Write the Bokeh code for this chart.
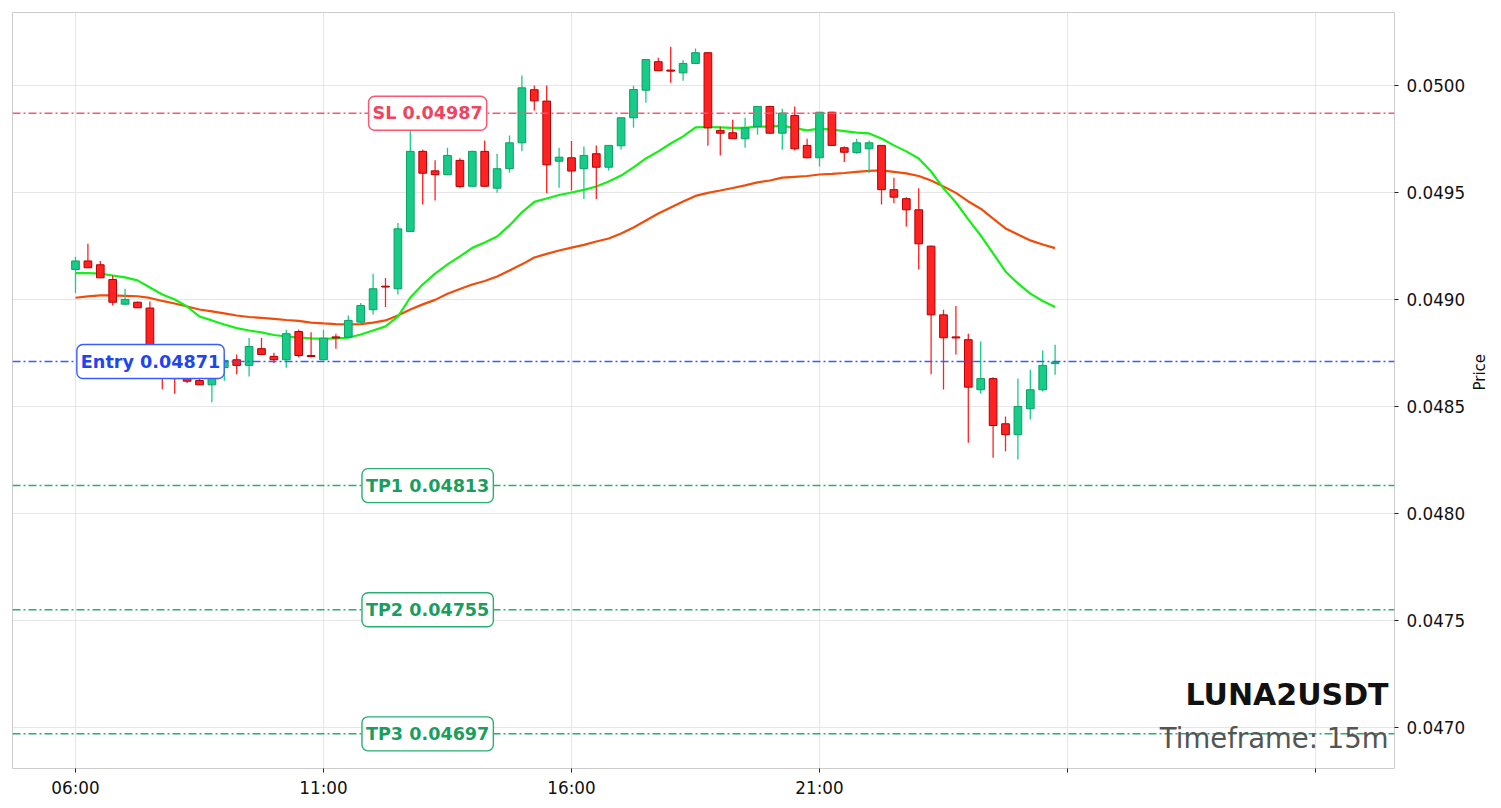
import math
from bokeh.plotting import figure
from bokeh.models import Range1d, FixedTicker, Label, Span
from bokeh.embed import file_html
from bokeh.resources import INLINE

# ---- data (15m candles starting 06:00) ----
time_labels = ["06:00", "11:00", "16:00", "21:00", "", ""]
tick_index = [0, 20, 40, 60, 80, 100]

opens = [0.04914, 0.04918, 0.049162, 0.049093, 0.048978, 0.048987, 0.04896, 0.04868, 0.048645, 0.048632,
         0.048621, 0.048601, 0.048682, 0.048718, 0.048692, 0.04877, 0.048734, 0.048718, 0.04885, 0.048738,
         0.048718, 0.048825, 0.048824, 0.048894, 0.048952, 0.049062, 0.04905, 0.049318, 0.049692, 0.049601,
         0.049583, 0.04965, 0.049529, 0.049692, 0.04952, 0.049611, 0.049732, 0.04998, 0.049927, 0.049646,
         0.049662, 0.049611, 0.049681, 0.049618, 0.049718, 0.049849, 0.049978, 0.050111, 0.050072, 0.050059,
         0.050103, 0.050153, 0.04979, 0.049779, 0.049751, 0.049808, 0.049902, 0.049777, 0.04986, 0.04972,
         0.049662, 0.049875, 0.049709, 0.049686, 0.049704, 0.04972, 0.049513, 0.049471, 0.049419, 0.049249,
         0.048928, 0.048825, 0.048812, 0.048578, 0.04863, 0.048419, 0.048368, 0.048489, 0.048578, 0.0487]
highs = [0.04920, 0.04926, 0.04918, 0.049112, 0.04905, 0.04899, 0.04899, 0.04870, 0.04865, 0.04864,
         0.048637, 0.04865, 0.04874, 0.048743, 0.048821, 0.04882, 0.048751, 0.048858, 0.04886, 0.048847,
         0.048858, 0.04884, 0.048925, 0.048983, 0.04912, 0.0491, 0.049357, 0.049798, 0.0497, 0.04965,
         0.049709, 0.04966, 0.049695, 0.049743, 0.049681, 0.049766, 0.050047, 0.0500, 0.0500, 0.049709,
         0.04974, 0.049715, 0.04972, 0.049722, 0.04985, 0.049999, 0.050122, 0.050129, 0.050181, 0.050118,
         0.050173, 0.050155, 0.049808, 0.04984, 0.049849, 0.049903, 0.049905, 0.049891, 0.049902, 0.049751,
         0.049876, 0.049877, 0.049715, 0.049751, 0.049743, 0.049722, 0.049569, 0.049478, 0.04952, 0.049252,
         0.048952, 0.048969, 0.04884, 0.048804, 0.048637, 0.048453, 0.04863, 0.048671, 0.048762, 0.048788]
lows = [0.04903, 0.04915, 0.0491, 0.048972, 0.048972, 0.04896, 0.04865, 0.04858, 0.048559, 0.04861,
        0.0486, 0.04852, 0.04862, 0.04865, 0.04864, 0.04874, 0.048702, 0.048681, 0.04873, 0.04873,
        0.048715, 0.04877, 0.04882, 0.048886, 0.04893, 0.048964, 0.049023, 0.049314, 0.049444, 0.049463,
        0.04958, 0.04952, 0.049525, 0.049525, 0.049499, 0.049592, 0.049693, 0.049883, 0.049497, 0.049522,
        0.049509, 0.04947, 0.04947, 0.049603, 0.049701, 0.049802, 0.049919, 0.050068, 0.050013, 0.050022,
        0.0501, 0.049718, 0.049673, 0.04975, 0.049709, 0.04977, 0.049775, 0.0497, 0.049696, 0.04966,
        0.049621, 0.049718, 0.049642, 0.049681, 0.04959, 0.049444, 0.04945, 0.049341, 0.04914, 0.04865,
        0.048579, 0.048743, 0.04833, 0.048559, 0.04826, 0.04829, 0.048252, 0.048439, 0.04857, 0.048648]
closes = [0.04918, 0.049148, 0.049101, 0.048987, 0.0490, 0.048961, 0.04868, 0.04864, 0.04863, 0.048618,
          0.048601, 0.048637, 0.048715, 0.048692, 0.04878, 0.048743, 0.048718, 0.04884, 0.048738, 0.048733,
          0.048819, 0.04882, 0.048902, 0.048972, 0.04905, 0.049058, 0.04933, 0.049692, 0.04959, 0.049583,
          0.049673, 0.049528, 0.049692, 0.049529, 0.049611, 0.049732, 0.049989, 0.049928, 0.049629, 0.049665,
          0.0496, 0.049673, 0.049618, 0.04972, 0.049849, 0.049981, 0.050121, 0.050069, 0.050067, 0.050103,
          0.050153, 0.049802, 0.049777, 0.049751, 0.049802, 0.049902, 0.049777, 0.049871, 0.049704, 0.049662,
          0.049875, 0.04972, 0.049688, 0.049732, 0.049732, 0.049513, 0.049478, 0.049419, 0.04926, 0.048928,
          0.048821, 0.04882, 0.04859, 0.04863, 0.048411, 0.048368, 0.0485, 0.048578, 0.048692, 0.048707]

ma_fast = [0.049123, 0.049123, 0.049121, 0.049112, 0.049103, 0.049089, 0.049056, 0.049023, 0.049000, 0.048967,
           0.048920, 0.048902, 0.048883, 0.048866, 0.048855, 0.048846, 0.048834, 0.048827, 0.048822, 0.048818,
           0.048816, 0.048818, 0.048821, 0.048836, 0.048855, 0.048874, 0.048920, 0.049009, 0.049070, 0.049121,
           0.049164, 0.049201, 0.049241, 0.049266, 0.049294, 0.049346, 0.049407, 0.049456, 0.049472, 0.049488,
           0.049500, 0.049512, 0.049528, 0.049551, 0.049579, 0.049617, 0.049659, 0.049692, 0.049729, 0.049762,
           0.049804, 0.049806, 0.049804, 0.049802, 0.049802, 0.049808, 0.049808, 0.049812, 0.049801, 0.049790,
           0.049798, 0.049794, 0.049787, 0.049780, 0.049776, 0.049752, 0.049720, 0.049692, 0.049659, 0.049598,
           0.049519, 0.049453, 0.049374, 0.049299, 0.049215, 0.049131, 0.049075, 0.049027, 0.048993, 0.048965]
ma_slow = [0.049008, 0.049014, 0.049019, 0.049019, 0.049017, 0.049015, 0.049007, 0.048993, 0.048981, 0.048967,
           0.048953, 0.048944, 0.048935, 0.048925, 0.048918, 0.048914, 0.048909, 0.048904, 0.048900, 0.048892,
           0.048888, 0.048885, 0.048883, 0.048885, 0.048892, 0.048902, 0.048925, 0.048953, 0.048977, 0.048998,
           0.049027, 0.049049, 0.049070, 0.049086, 0.049107, 0.049135, 0.049164, 0.049196, 0.049213, 0.049229,
           0.049242, 0.049255, 0.049271, 0.049285, 0.049308, 0.049336, 0.049369, 0.049402, 0.049430, 0.049458,
           0.049484, 0.049498, 0.049509, 0.049521, 0.049533, 0.049547, 0.049556, 0.049569, 0.049573, 0.049577,
           0.049584, 0.049587, 0.049591, 0.049596, 0.049601, 0.049603, 0.049596, 0.049589, 0.049577, 0.049556,
           0.049528, 0.049498, 0.049458, 0.049424, 0.049378, 0.049332, 0.049304, 0.049276, 0.049257, 0.049240]

level_names = ["SL", "Entry", "TP1", "TP2", "TP3"]
level_values = [0.04987, 0.04871, 0.04813, 0.04755, 0.04697]
level_label_x = [28.4, 6.05, 28.4, 28.4, 28.4]

symbol = "LUNA2USDT"
timeframe = "Timeframe: 15m"
y_ticks = [0.0470, 0.0475, 0.0480, 0.0485, 0.0490, 0.0495, 0.0500]

# ---- styles ----
UP_FILL, UP_EDGE = "#16cc88", "#0f9e64"
DN_FILL, DN_EDGE = "#ff2222", "#b30000"
LEVEL_COLORS = {"SL": "#ff5570", "Entry": "#3a5cff", "TP1": "#26b070", "TP2": "#26b070", "TP3": "#26b070"}
LEVEL_TEXT = {"SL": "#ee4460", "Entry": "#2244f0", "TP1": "#1a9e60", "TP2": "#1a9e60", "TP3": "#1a9e60"}
FONT = "DejaVu Sans"

n = len(opens)
idx = list(range(n))
up = [c >= o for o, c in zip(opens, closes)]

p = figure(frame_width=1382, frame_height=756, output_backend="svg", toolbar_location=None,
           x_range=Range1d(-5.08, 106.37), y_range=Range1d(0.046808, 0.050341),
           y_axis_location="right", min_border_left=12, min_border_top=12, min_border_right=4,
           min_border_bottom=4, background_fill_color="white", border_fill_color="white")
p.outline_line_color = "#cccccc"
p.outline_line_width = 1

# grid
p.xgrid.ticker = FixedTicker(ticks=tick_index)
p.ygrid.ticker = FixedTicker(ticks=y_ticks)
for g in (p.xgrid, p.ygrid):
    g.grid_line_color = "#e6e6e6"
    g.grid_line_width = 1

# axes
xa = p.xaxis[0]
xa.ticker = FixedTicker(ticks=tick_index)
xa.major_label_overrides = {t: l for t, l in zip(tick_index, time_labels)}
ya = p.yaxis[0]
ya.ticker = FixedTicker(ticks=y_ticks)
ya.major_label_overrides = {t: f"{t:.4f}" for t in y_ticks}
ya.axis_label = "Price"
ya.axis_label_text_font_style = "normal"
ya.axis_label_text_font_size = "15px"
ya.axis_label_text_font = FONT
ya.axis_label_text_color = "#111111"
ya.axis_label_standoff = 12
ya.axis_label_orientation = math.pi / 2
for ax in (xa, ya):
    ax.axis_line_color = None
    ax.minor_tick_line_color = None
    ax.major_tick_in = 0
    ax.major_tick_out = 4
    ax.major_tick_line_color = "#222222"
    ax.major_label_text_font = FONT
    ax.major_label_text_font_size = "16.8px"
    ax.major_label_text_color = "#111111"
xa.major_label_standoff = 5
ya.major_label_standoff = 8

# moving averages
p.line(idx, ma_slow, line_color="#f04d0a", line_width=2.2)
p.line(idx, ma_fast, line_color="#14f014", line_width=2.2)

# candles
wick_colors = [UP_FILL if u else DN_FILL for u in up]
p.segment(x0=idx, y0=lows, x1=idx, y1=highs, line_color=wick_colors, line_width=1.3)
body_top = [max(o, c) for o, c in zip(opens, closes)]
body_bot = [min(o, c) for o, c in zip(opens, closes)]
p.vbar(x=idx, top=body_top, bottom=body_bot, width=0.62,
       fill_color=[UP_FILL if u else DN_FILL for u in up],
       line_color=[UP_EDGE if u else DN_EDGE for u in up], line_width=1)

# levels
for name, val, lx in zip(level_names, level_values, level_label_x):
    col = LEVEL_COLORS[name]
    p.add_layout(Span(location=val, dimension="width", line_color=col, line_width=1.5,
                      line_dash="8 3 2 3"))
    p.add_layout(Label(x=lx, y=val, text=f"{name} {val:.5f}", text_align="center",
                       text_baseline="middle", text_font=FONT, text_font_style="bold",
                       text_font_size="17.6px", text_color=LEVEL_TEXT[name],
                       background_fill_color="white", background_fill_alpha=1.0,
                       border_line_color=col, border_line_width=1.4, border_radius=6,
                       padding=(4, 7)))

# symbol / timeframe annotation
p.add_layout(Label(x=1376, y=74, x_units="screen", y_units="screen", text=symbol,
                   text_align="right", text_baseline="middle", text_font=FONT,
                   text_font_style="bold", text_font_size="30px", text_color="#111111"))
p.add_layout(Label(x=1376, y=31, x_units="screen", y_units="screen", text=timeframe,
                   text_align="right", text_baseline="middle", text_font=FONT,
                   text_font_size="27.5px", text_color="#555555"))

open("out.html", "w").write(file_html(p, INLINE))
